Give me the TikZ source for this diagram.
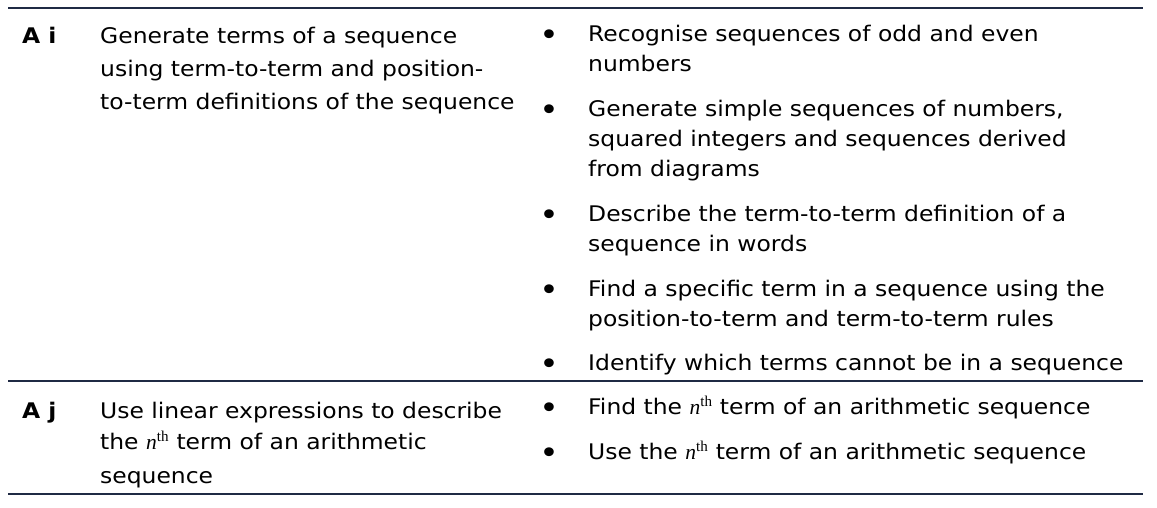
\documentclass[tikz,border=0pt]{standalone}
\usepackage{fontspec}
\setmainfont{DejaVu Sans}[FakeStretch=1.09]
\newfontfamily\timesf{Liberation Serif}
\definecolor{rule}{HTML}{1F2A44}
\newcommand{\nth}{{\timesf\itshape n}\textsuperscript{\timesf th}}
\begin{document}
\begin{tikzpicture}[x=1pt,y=-1pt,
  txt/.style={anchor=base west,inner sep=0pt,font=\fontsize{21.5}{24}\selectfont},
  bul/.style={anchor=base,inner sep=0pt,font=\fontsize{25}{24}\selectfont\bfseries},
  hrule/.style={draw=rule,line width=1.6pt}]
\useasboundingbox (0,0) rectangle (1157,507);
\coordinate (t1) at (8,8); \coordinate (t2) at (1143,8);
\coordinate (m1) at (8,381); \coordinate (m2) at (1143,381);
\coordinate (b1) at (8,494); \coordinate (b2) at (1143,494);
\draw[hrule,line width=1.3pt] (t1) -- (t2);
\draw[hrule] (m1) -- (m2);
\draw[hrule] (b1) -- (b2);
% row 1
\node[txt,font=\fontsize{21.5}{24}\selectfont\bfseries] (ai) at (22,43) {A i};
\node[txt] (l1) at (100,43) {Generate terms of a sequence};
\node[txt] (l2) at (100,76) {using term-to-term and position-};
\node[txt] (l3) at (100,109) {to-term definitions of the sequence};
\foreach \y in {43,118,223,298,372} {\node[bul] at (549,\y) {•};}
\node[txt] (r1) at (588,41) {Recognise sequences of odd and even};
\node[txt] (r2) at (588,71) {numbers};
\node[txt] (r3) at (588,116) {Generate simple sequences of numbers,};
\node[txt] (r4) at (588,146) {squared integers and sequences derived};
\node[txt] (r5) at (588,176) {from diagrams};
\node[txt] (r6) at (588,221) {Describe the term-to-term definition of a};
\node[txt] (r7) at (588,251) {sequence in words};
\node[txt] (r8) at (588,296) {Find a specific term in a sequence using the};
\node[txt] (r9) at (588,326) {position-to-term and term-to-term rules};
\node[txt] (r10) at (588,370) {Identify which terms cannot be in a sequence};
% row 2
\node[txt,font=\fontsize{21.5}{24}\selectfont\bfseries] (aj) at (22,418) {A j};
\node[txt] (k1) at (100,418) {Use linear expressions to describe};
\node[txt] (k2) at (100,449) {the \nth{} term of an arithmetic};
\node[txt] (k3) at (100,483) {sequence};
\foreach \y in {416,461} {\node[bul] at (549,\y) {•};}
\node[txt] (s1) at (588,414) {Find the \nth{} term of an arithmetic sequence};
\node[txt] (s2) at (588,459) {Use the \nth{} term of an arithmetic sequence};
\end{tikzpicture}
\end{document}
